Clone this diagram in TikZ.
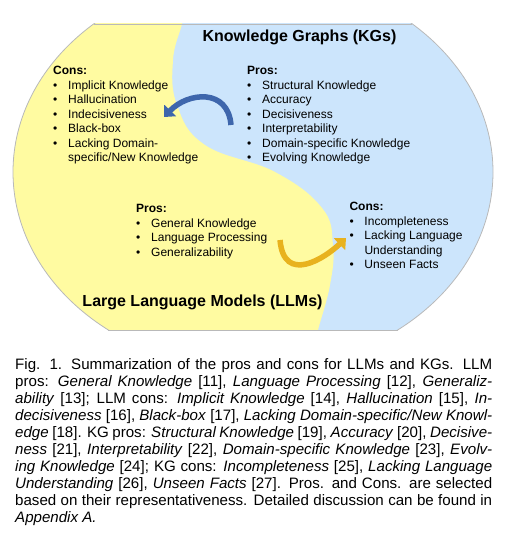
\documentclass[tikz,border=0pt]{standalone}
\usepackage{fontspec}
\setmainfont{Liberation Sans}
\usetikzlibrary{arrows.meta}

\definecolor{llmyellow}{RGB}{255,251,161}
\definecolor{kgblue}{RGB}{204,229,252}
\definecolor{arrowblue}{RGB}{62,102,172}
\definecolor{arrowgold}{RGB}{232,178,30}

\newcommand{\itm}{\makebox[15pt][l]{\textbullet}}
\newcommand{\capline}[1]{\makebox[477pt][s]{#1}}

\begin{document}
\begin{tikzpicture}[x=1pt, y=-1pt,
        edge/.style = {draw = gray!55, line width = 0.8pt},
        prolist/.style = {anchor = base west, inner sep = 0pt, font = \fontsize{12}{14.55}\selectfont},
        heading/.style = {anchor = base, inner sep = 0pt, font = \fontsize{16}{19}\selectfont\bfseries},
        curvearrow/.style = {line width = 5.5pt, -{Triangle[width = 16pt, length = 9pt]}}]
        \useasboundingbox (0,0) rectangle (525,551);

        % the two halves
        \begin{scope}
            \clip (0,24) rectangle (525,330);
            \clip (253,172) ellipse [x radius = 240, y radius = 198];
            \fill [kgblue] (0,0) rectangle (525,551);
            \fill [llmyellow] plot [smooth, tension = 0.7] coordinates {(184,12) (182,24) (173,60) (177,105) (205,145) (275,172) (322,208) (333,245) (330,285) (318,330) (316,342)} -- (0,342) -- (0,12) -- cycle;
        \end{scope}
        \begin{scope}
            \clip (0,24) rectangle (525,330);
            \draw [edge] (253,172) ellipse [x radius = 240, y radius = 198];
        \end{scope}
        \draw [edge] (93.6,24) -- (412.4,24);
        \draw [edge] (108.4,330) -- (397.6,330);

        \node [heading] (kgtitle) at (299.5,41.7) {Knowledge Graphs (KGs)};
        \node [heading] (llmtitle) at (202.5,306.7) {Large Language Models (LLMs)};

        \node [prolist] (llmcons) at (53,74.5) {\begin{tabular}[t]{@{}l@{}}
            \textbf{Cons:}\\
            \itm Implicit Knowledge\\
            \itm Hallucination\\
            \itm Indecisiveness\\
            \itm Black-box\\
            \itm Lacking Domain-\\
            \hspace*{15pt}specific/New Knowledge
        \end{tabular}};
        \node [prolist] (kgpros) at (247,74.5) {\begin{tabular}[t]{@{}l@{}}
            \textbf{Pros:}\\
            \itm Structural Knowledge\\
            \itm Accuracy\\
            \itm Decisiveness\\
            \itm Interpretability\\
            \itm Domain-specific Knowledge\\
            \itm Evolving Knowledge
        \end{tabular}};
        \node [prolist] (llmpros) at (136,212.7) {\begin{tabular}[t]{@{}l@{}}
            \textbf{Pros:}\\
            \itm General Knowledge\\
            \itm Language Processing\\
            \itm Generalizability
        \end{tabular}};
        \node [prolist] (kgcons) at (349.3,210.7) {\begin{tabular}[t]{@{}l@{}}
            \textbf{Cons:}\\
            \itm Incompleteness\\
            \itm Lacking Language\\
            \hspace*{15pt}Understanding\\
            \itm Unseen Facts
        \end{tabular}};

        % arrows
        \draw [curvearrow, arrowblue] (231,125) .. controls (228,88) and (188,92) .. (164,117);
        \draw [curvearrow, arrowgold] (280,240) .. controls (284,285) and (325,258) .. (346,238);

        \node [anchor = base west, inner sep = 0pt, align = left, font = \fontsize{15.1}{17.05}\selectfont] (caption) at (15,522.75) {%
            \capline{Fig. 1. Summarization of the pros and cons for LLMs and KGs. LLM}\\
            \capline{pros: \textit{General Knowledge} [11], \textit{Language Processing} [12], \textit{Generaliz-}}\\
            \capline{\textit{ability} [13]; LLM cons: \textit{Implicit Knowledge} [14], \textit{Hallucination} [15], \textit{In-}}\\
            \capline{\textit{decisiveness} [16], \textit{Black-box} [17], \textit{Lacking Domain-specific/New Knowl-}}\\
            \capline{\textit{edge} [18]. KG pros: \textit{Structural Knowledge} [19], \textit{Accuracy} [20], \textit{Decisive-}}\\
            \capline{\textit{ness} [21], \textit{Interpretability} [22], \textit{Domain-specific Knowledge} [23], \textit{Evolv-}}\\
            \capline{\textit{ing Knowledge} [24]; KG cons: \textit{Incompleteness} [25], \textit{Lacking Language}}\\
            \capline{\textit{Understanding} [26], \textit{Unseen Facts} [27]. Pros. and Cons. are selected}\\
            \capline{based on their representativeness. Detailed discussion can be found in}\\
            \textit{Appendix A.}};
\end{tikzpicture}
\end{document}
